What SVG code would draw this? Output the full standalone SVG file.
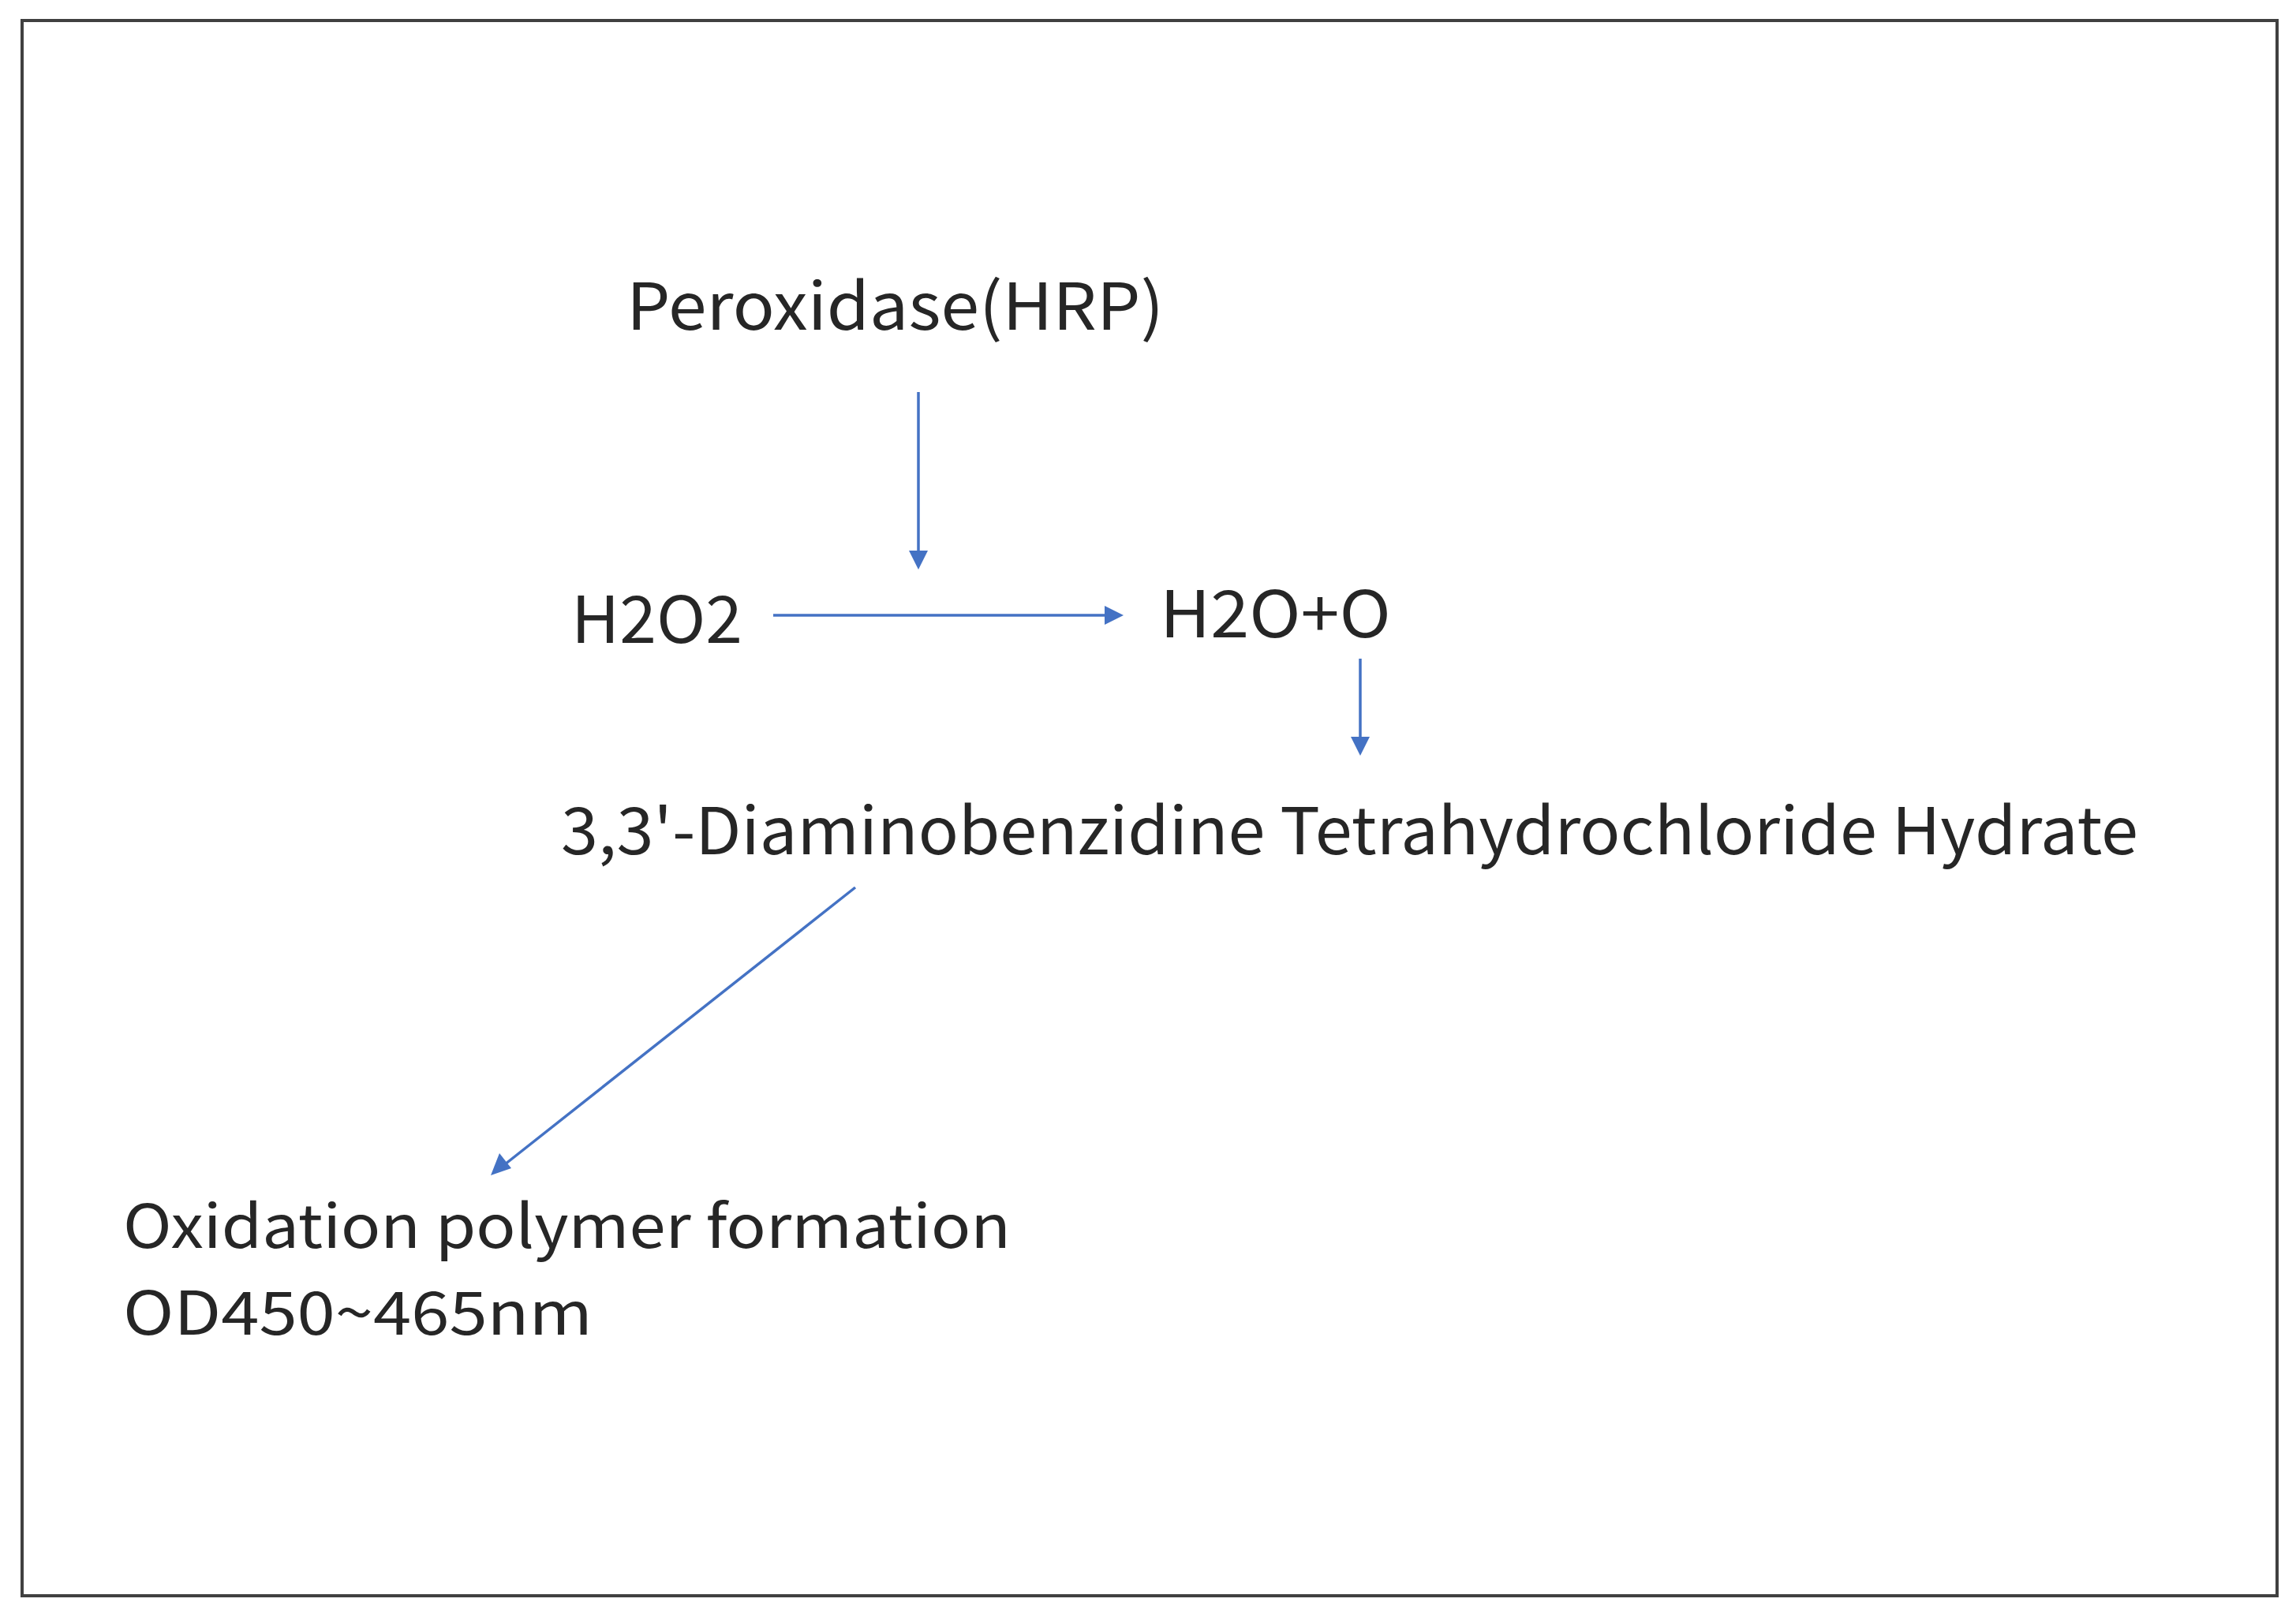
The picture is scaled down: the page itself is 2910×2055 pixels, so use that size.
<svg xmlns="http://www.w3.org/2000/svg" width="2910" height="2055" viewBox="0 0 2910 2055">
<style>
text{font-family:"Noto Sans CJK JP","Noto Sans",sans-serif;font-size:82px;fill:#262626}
text.s{font-size:76px}
.c line{stroke:#4472C4;stroke-width:3.5}
.c path{fill:#4472C4}
</style>
<rect width="2910" height="2055" fill="#fff"/>
<rect x="28" y="26" width="2858" height="1997" fill="none" stroke="#404040" stroke-width="4"/>
<g id="hrp"><text x="794" y="418" textLength="681" lengthAdjust="spacingAndGlyphs">Peroxidase(HRP)</text></g>
<g id="h2o2"><text x="724" y="815" textLength="217" lengthAdjust="spacingAndGlyphs">H2O2</text></g>
<g id="h2oo"><text x="1470" y="808" textLength="293" lengthAdjust="spacingAndGlyphs">H2O+O</text></g>
<g id="dab"><text x="711" y="1083" textLength="1999" lengthAdjust="spacingAndGlyphs">3,3'-Diaminobenzidine Tetrahydrochloride Hydrate</text></g>
<g id="ox"><text class="s" x="156" y="1582" textLength="1125" lengthAdjust="spacingAndGlyphs">Oxidation polymer formation</text><text class="s" x="156" y="1692" textLength="595" lengthAdjust="spacingAndGlyphs">OD450~465nm</text></g>
<g class="c" id="connectors">
<line x1="1164" y1="497" x2="1164" y2="700"/>
<path d="M1152,698L1176,698L1164,722z"/>
<line x1="980" y1="780" x2="1402" y2="780"/>
<path d="M1400,768L1424,780L1400,792z"/>
<line x1="1724" y1="835" x2="1724" y2="936"/>
<path d="M1712,934L1736,934L1724,958z"/>
<line x1="1084" y1="1125" x2="640" y2="1476"/>
<path d="M633,1462L648,1481L622,1490z"/>
</g>
</svg>
